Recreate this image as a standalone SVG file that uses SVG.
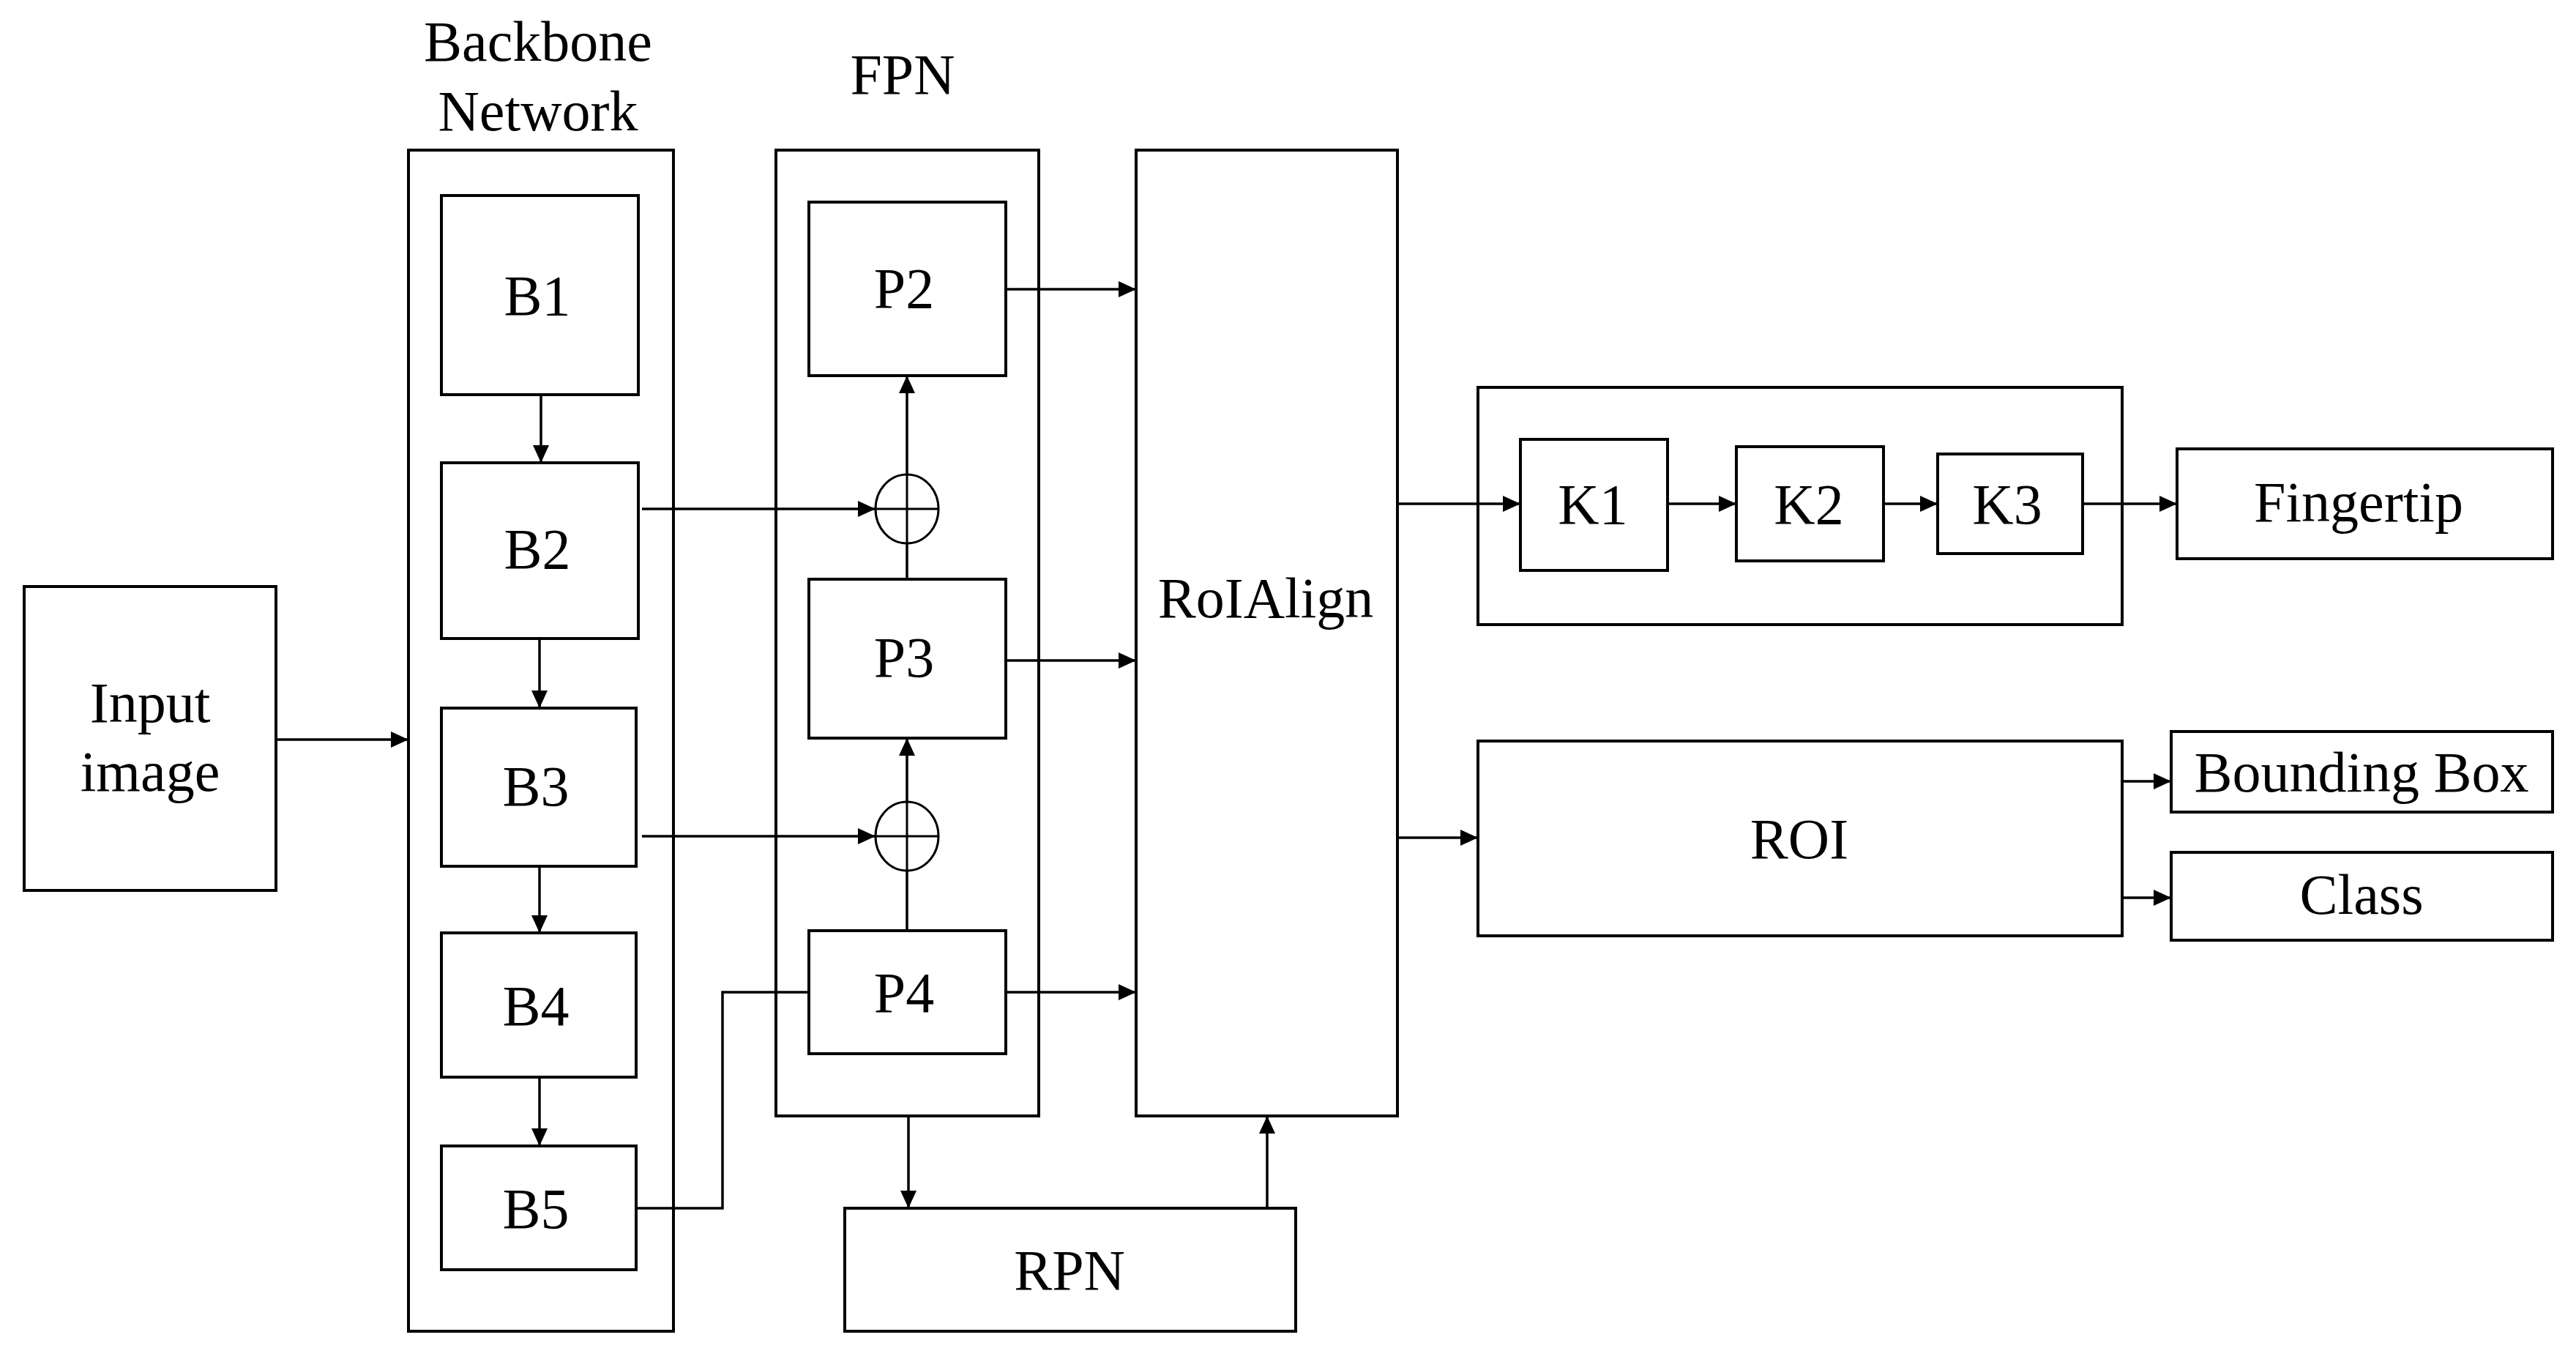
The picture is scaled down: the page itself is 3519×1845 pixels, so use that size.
<svg xmlns="http://www.w3.org/2000/svg" width="3519" height="1845" viewBox="0 0 3519 1845">
<style>
  .box { fill: #fff; stroke: #000; stroke-width: 4; }
  .frame { fill: none; stroke: #000; stroke-width: 4; }
  .lbl { font-family: "Liberation Serif", "Times New Roman", serif; font-size: 78px; fill: #000; text-anchor: middle; }
  .con { fill: none; stroke: #000; stroke-width: 3.5; }
  .arr { marker-end: url(#ah); }
  .sum { fill: none; stroke: #000; stroke-width: 3; }
</style>
<defs>
  <marker id="ah" markerUnits="userSpaceOnUse" markerWidth="26" markerHeight="24" refX="24" refY="12" orient="auto">
    <path d="M0,1 L24,12 L0,23 Z" fill="#000"/>
  </marker>
</defs>
<rect width="3519" height="1845" fill="#fff"/>

<g id="backbone-title">
  <text class="lbl" x="735" y="83">Backbone</text>
  <text class="lbl" x="735" y="178">Network</text>
</g>
<g id="fpn-title">
  <text class="lbl" x="1233" y="128">FPN</text>
</g>

<g id="input">
  <rect class="box" x="33" y="801" width="344" height="415"/>
  <text class="lbl" x="205" y="986">Input</text>
  <text class="lbl" x="205" y="1080">image</text>
</g>

<g id="backbone">
  <rect class="frame" x="558" y="205" width="362" height="1613"/>
</g>
<g id="B1"><rect class="box" x="603" y="267" width="269" height="272"/><text class="lbl" x="734" y="430">B1</text></g>
<g id="B2"><rect class="box" x="603" y="632" width="269" height="240"/><text class="lbl" x="734" y="776">B2</text></g>
<g id="B3"><rect class="box" x="603" y="967" width="266" height="216"/><text class="lbl" x="732" y="1100">B3</text></g>
<g id="B4"><rect class="box" x="603" y="1274" width="266" height="197"/><text class="lbl" x="732" y="1400">B4</text></g>
<g id="B5"><rect class="box" x="603" y="1565" width="266" height="169"/><text class="lbl" x="732" y="1677">B5</text></g>

<g id="fpn">
  <rect class="frame" x="1060" y="205" width="359" height="1319"/>
</g>
<g id="P2"><rect class="box" x="1105" y="276" width="269" height="237"/><text class="lbl" x="1235" y="420">P2</text></g>
<g id="P3"><rect class="box" x="1105" y="791" width="269" height="217"/><text class="lbl" x="1235" y="924">P3</text></g>
<g id="P4"><rect class="box" x="1105" y="1271" width="269" height="168"/><text class="lbl" x="1235" y="1382">P4</text></g>

<g id="sum1">
  <ellipse class="sum" cx="1239" cy="695" rx="43" ry="47"/>
  <line class="sum" x1="1196" y1="695" x2="1282" y2="695"/>
  <line class="sum" x1="1239" y1="648" x2="1239" y2="742"/>
</g>
<g id="sum2">
  <ellipse class="sum" cx="1239" cy="1142" rx="43" ry="47"/>
  <line class="sum" x1="1196" y1="1142" x2="1282" y2="1142"/>
  <line class="sum" x1="1239" y1="1095" x2="1239" y2="1189"/>
</g>

<g id="roialign">
  <rect class="box" x="1552" y="205" width="357" height="1319"/>
  <text class="lbl" x="1729" y="843">RoIAlign</text>
</g>

<g id="rpn">
  <rect class="box" x="1154" y="1650" width="616" height="168"/>
  <text class="lbl" x="1461" y="1761">RPN</text>
</g>

<g id="keypoint-head">
  <rect class="frame" x="2019" y="529" width="880" height="324"/>
</g>
<g id="K1"><rect class="box" x="2077" y="600" width="201" height="179"/><text class="lbl" x="2176" y="715">K1</text></g>
<g id="K2"><rect class="box" x="2372" y="610" width="201" height="156"/><text class="lbl" x="2471" y="715">K2</text></g>
<g id="K3"><rect class="box" x="2647" y="620" width="198" height="136"/><text class="lbl" x="2742" y="715">K3</text></g>
<g id="fingertip"><rect class="box" x="2974" y="613" width="513" height="150"/><text class="lbl" x="3222" y="712">Fingertip</text></g>

<g id="roi"><rect class="box" x="2019" y="1012" width="880" height="266"/><text class="lbl" x="2458" y="1172">ROI</text></g>
<g id="bbox"><rect class="box" x="2966" y="999" width="521" height="110"/><text class="lbl" x="3226" y="1081">Bounding Box</text></g>
<g id="class"><rect class="box" x="2966" y="1164" width="521" height="120"/><text class="lbl" x="3226" y="1248">Class</text></g>

<g id="connectors">
  <line class="con arr" x1="377" y1="1010" x2="558" y2="1010"/>
  <line class="con arr" x1="739" y1="539" x2="739" y2="632"/>
  <line class="con arr" x1="737" y1="872" x2="737" y2="967"/>
  <line class="con arr" x1="737" y1="1183" x2="737" y2="1274"/>
  <line class="con arr" x1="737" y1="1471" x2="737" y2="1565"/>
  <line class="con arr" x1="877" y1="695" x2="1196" y2="695"/>
  <line class="con arr" x1="877" y1="1142" x2="1196" y2="1142"/>
  <line class="con arr" x1="1239" y1="648" x2="1239" y2="513"/>
  <line class="con" x1="1239" y1="791" x2="1239" y2="742"/>
  <line class="con arr" x1="1239" y1="1095" x2="1239" y2="1008"/>
  <line class="con" x1="1239" y1="1271" x2="1239" y2="1189"/>
  <polyline class="con" points="869,1650 987,1650 987,1355 1105,1355"/>
  <line class="con arr" x1="1374" y1="395" x2="1552" y2="395"/>
  <line class="con arr" x1="1374" y1="902" x2="1552" y2="902"/>
  <line class="con arr" x1="1374" y1="1355" x2="1552" y2="1355"/>
  <line class="con arr" x1="1241" y1="1522" x2="1241" y2="1650"/>
  <line class="con arr" x1="1731" y1="1650" x2="1731" y2="1524"/>
  <line class="con arr" x1="1909" y1="688" x2="2077" y2="688"/>
  <line class="con arr" x1="2278" y1="688" x2="2372" y2="688"/>
  <line class="con arr" x1="2573" y1="688" x2="2647" y2="688"/>
  <line class="con arr" x1="2845" y1="688" x2="2974" y2="688"/>
  <line class="con arr" x1="1909" y1="1144" x2="2019" y2="1144"/>
  <line class="con arr" x1="2899" y1="1067" x2="2966" y2="1067"/>
  <line class="con arr" x1="2899" y1="1226" x2="2966" y2="1226"/>
</g>
</svg>
